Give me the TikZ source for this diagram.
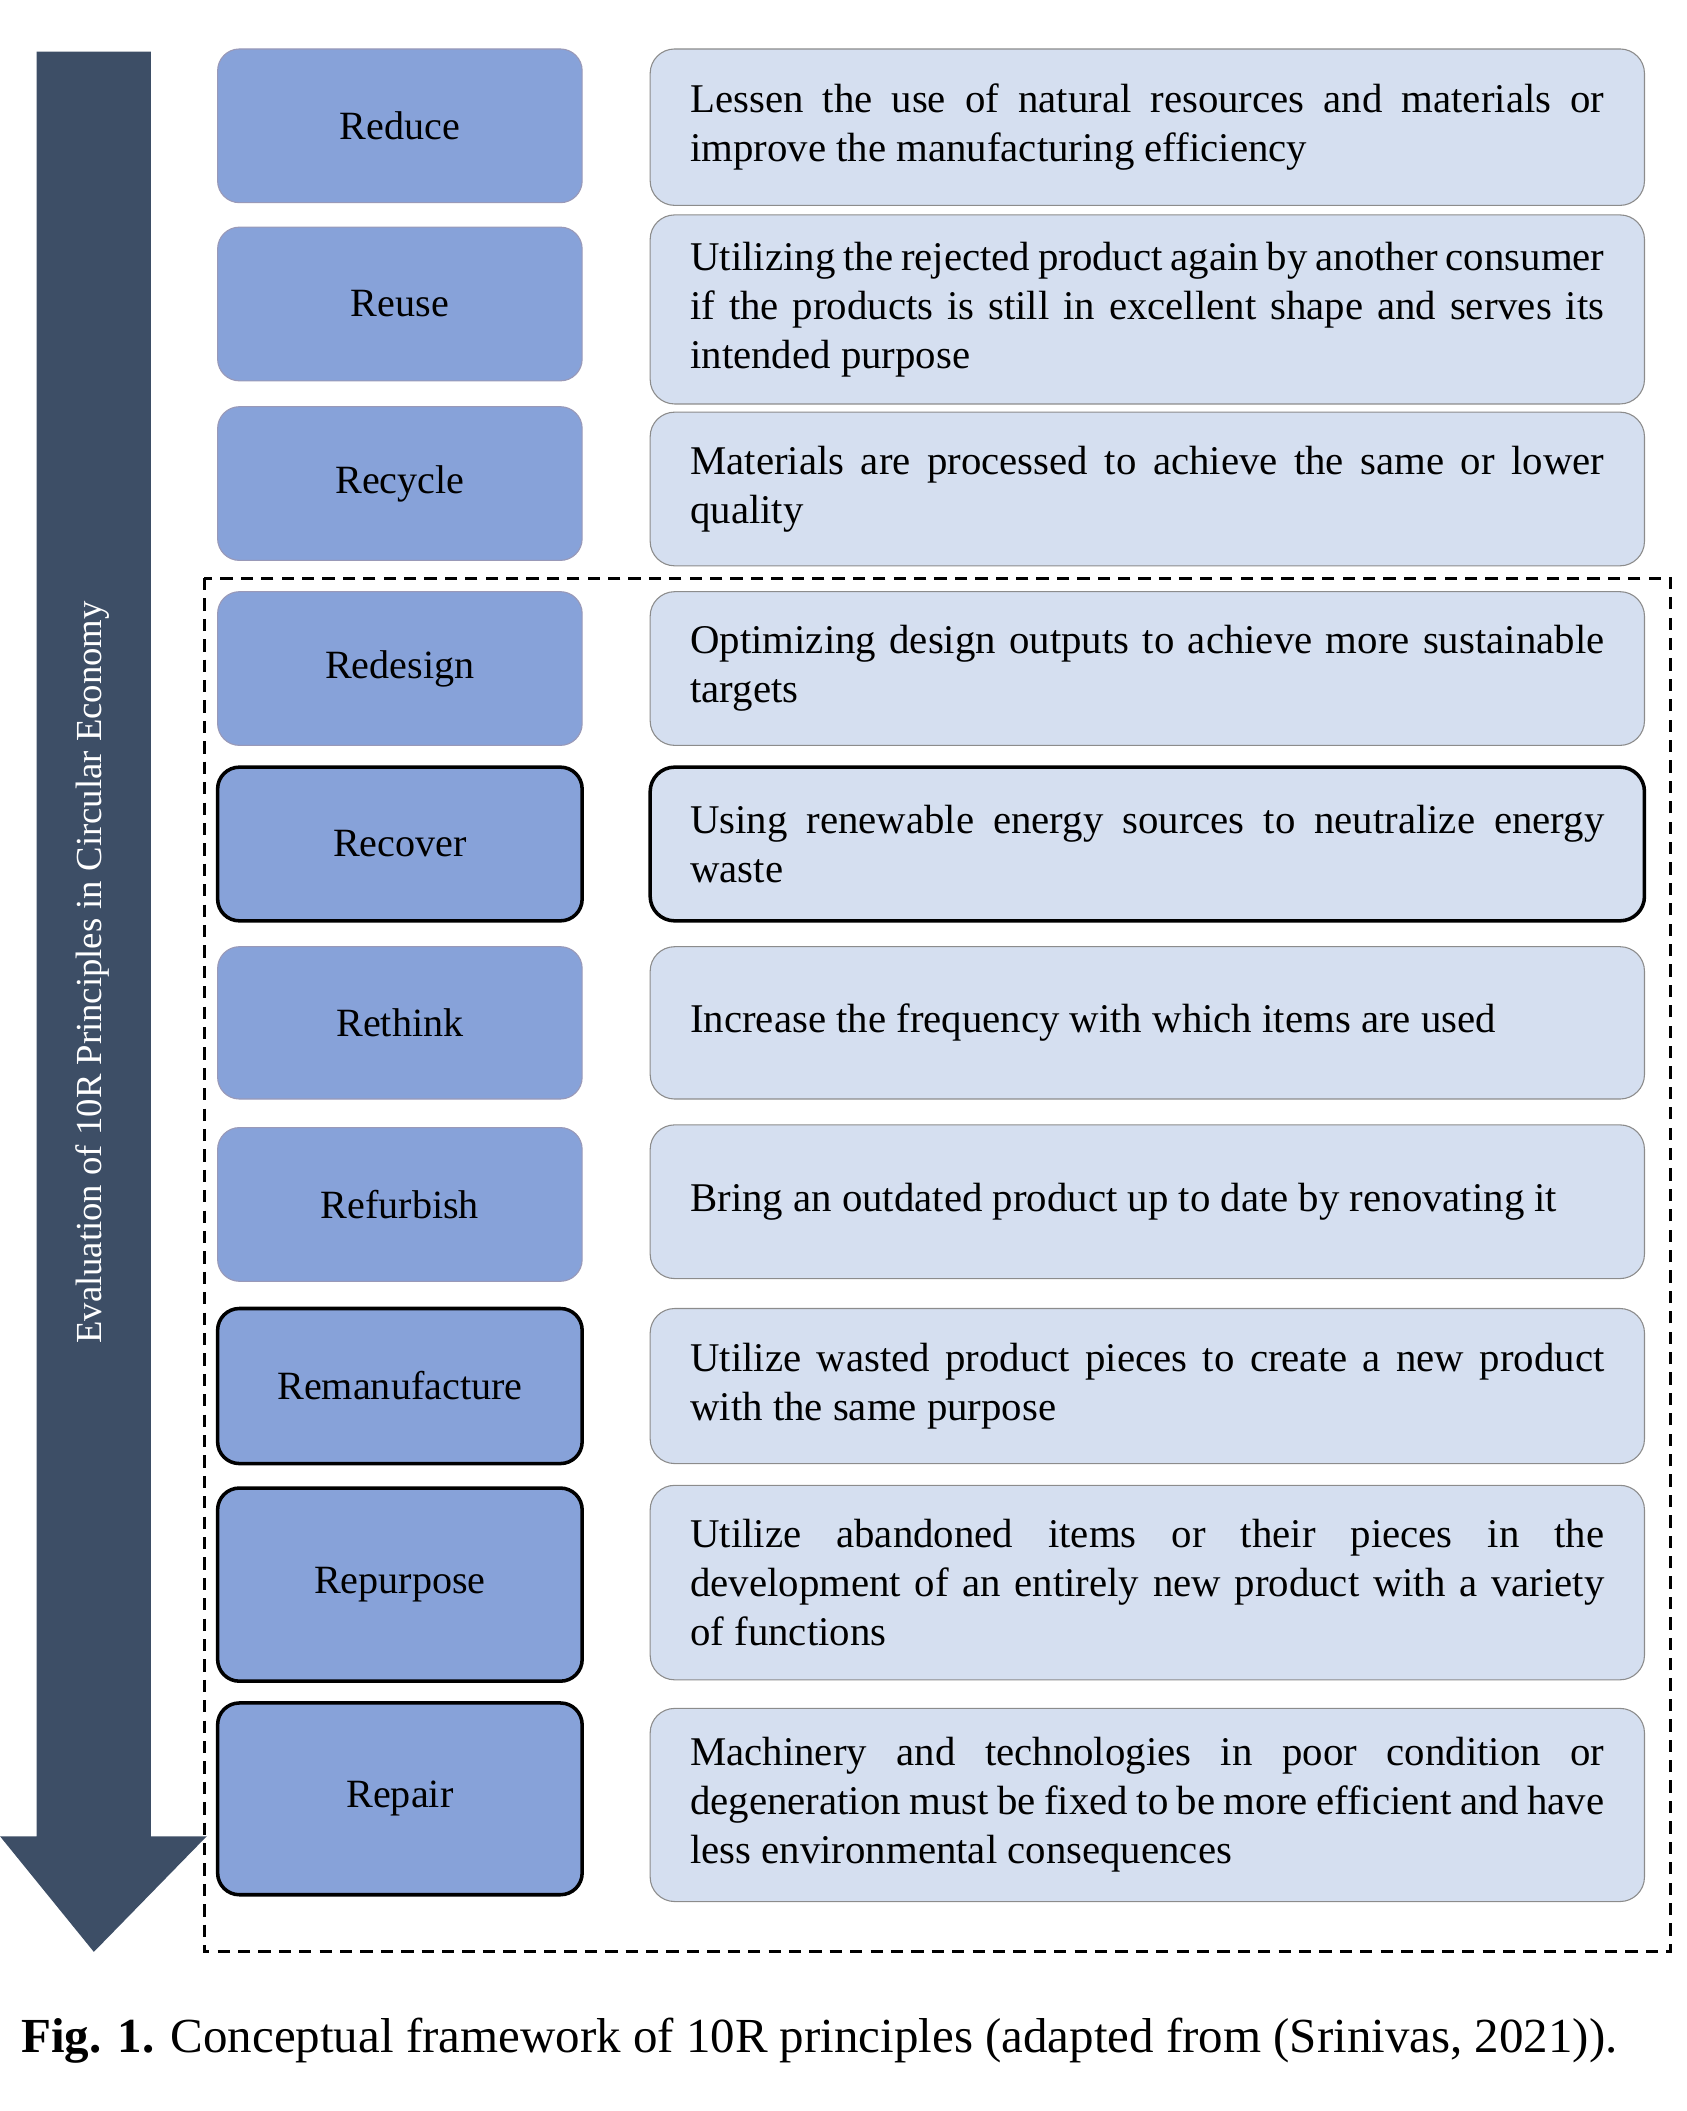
\documentclass[tikz,border=0pt]{standalone}
\usepackage{fontspec}
\setmainfont{Liberation Serif}
\begin{document}
\hyphenpenalty=10000 \exhyphenpenalty=10000
\begin{tikzpicture}[x=1pt,y=-1pt,
  lb/.style={draw=black!70!blue!40,fill=lbf,rounded corners=16,line width=0.8pt,align=center,font=\fontsize{29.5}{36}\selectfont},
  rb/.style={draw=black!45,fill=rbf,rounded corners=18,line width=0.8pt,align=justify,text width=672,font=\fontsize{30}{36}\selectfont},
  thick/.style={draw=black,line width=2.6pt}]
\definecolor{lbf}{HTML}{87A2D9}
\definecolor{rbf}{HTML}{D5DFF0}
\definecolor{arr}{HTML}{3D4E66}
\useasboundingbox (0,0) rectangle (1240,1552);
\fill[arr] (27,38) -- (111,38) -- (111,1350) -- (152,1350) -- (69,1435) -- (0,1350) -- (27,1350) -- cycle;
\node[rotate=90,text=white,font=\fontsize{27}{32}\selectfont] (t) at (68,715) {Evaluation of 10R Principles in Circular Economy};
\draw[line width=2.2pt,dash pattern=on 9pt off 6pt] (150,425) rectangle (1228,1435);
\newcommand{\lrow}[5]{\draw[lb,#5] (160,#1) rectangle (428,#2) node[midway,draw=none,fill=none,rounded corners=0] (#3) {#4};}
\newcommand{\rrow}[5]{\draw[rb,#5] (478,#1) rectangle (1209,#2) node[midway,draw=none,fill=none,rounded corners=0] (#3) {\emergencystretch=20pt #4};}
\lrow{36}{149}{l1}{Reduce}{}
\lrow{167}{280}{l2}{Reuse}{}
\lrow{299}{412}{l3}{Recycle}{}
\lrow{435}{548}{l4}{Redesign}{}
\lrow{564}{677}{l5}{Recover}{thick}
\lrow{696}{808}{l6}{Rethink}{}
\lrow{829}{942}{l7}{Refurbish}{}
\lrow{962}{1076}{l8}{Remanufacture}{thick}
\lrow{1094}{1236}{l9}{Repurpose}{thick}
\lrow{1252}{1393}{l10}{Repair}{thick}
\rrow{36}{151}{r1}{Lessen the use of natural resources and materials or improve the manufacturing efficiency}{}
\rrow{158}{297}{r2}{Utilizing the rejected product again by another consumer if the products is still in excellent shape and serves its intended purpose}{}
\rrow{303}{416}{r3}{Materials are processed to achieve the same or lower quality}{}
\rrow{435}{548}{r4}{Optimizing design outputs to achieve more sustainable targets}{}
\rrow{564}{677}{r5}{Using renewable energy sources to neutralize energy waste}{thick}
\rrow{696}{808}{r6}{Increase the frequency with which items are used}{}
\rrow{827}{940}{r7}{Bring an outdated product up to date by renovating it}{}
\rrow{962}{1076}{r8}{Utilize wasted product pieces to create a new product with the same purpose}{}
\rrow{1092}{1235}{r9}{Utilize abandoned items or their pieces in the development of an entirely new product with a variety of functions}{}
\rrow{1256}{1398}{r10}{Machinery and technologies in poor condition or degeneration must be fixed to be more efficient and have less environmental consequences}{}
\node[anchor=west,font=\fontsize{36}{42}\selectfont] (cap) at (12,1500) {\textbf{Fig. 1.} Conceptual framework of 10R principles (adapted from (Srinivas, 2021)).};
\end{tikzpicture}
\end{document}
